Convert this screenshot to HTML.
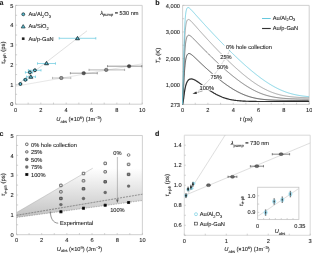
<!DOCTYPE html>
<html><head><meta charset="utf-8"><style>
html,body{margin:0;padding:0;background:#fff;width:312px;height:254px;overflow:hidden}
svg{display:block}
#w{width:312px;height:254px}
text{font-family:"Liberation Sans",sans-serif;text-rendering:geometricPrecision;stroke:#000;stroke-width:0.06px}
</style></head><body><div id="w">
<svg width="312" height="254" viewBox="0 0 312 254">
<defs><filter id="bl" x="0" y="0" width="312" height="254" filterUnits="userSpaceOnUse"><feConvolveMatrix order="3" kernelMatrix="0.00027 0.01580 0.00027 0.01580 0.93575 0.01580 0.00027 0.01580 0.00027" divisor="1" edgeMode="duplicate" preserveAlpha="false"/></filter></defs>
<g filter="url(#bl)">
<rect x="0" y="0" width="312" height="254" fill="#fff"/>
<text x="-0.50" y="5.00" font-size="7.2" text-anchor="start" fill="#000" font-weight="bold">a</text>
<text x="155.30" y="5.00" font-size="7.2" text-anchor="start" fill="#000" font-weight="bold">b</text>
<text x="-0.50" y="136.30" font-size="7.2" text-anchor="start" fill="#000" font-weight="bold">c</text>
<text x="155.00" y="136.20" font-size="7.2" text-anchor="start" fill="#000" font-weight="bold">d</text>
<path d="M15.50,104.20 L15.50,5.40 L142.20,5.40 L142.20,104.20 Z" fill="none" stroke="#c8c8c8" stroke-width="0.9" stroke-linejoin="miter"/>
<line x1="15.50" y1="104.20" x2="15.50" y2="102.60" stroke="#b0b0b0" stroke-width="0.6" />
<line x1="40.84" y1="104.20" x2="40.84" y2="102.60" stroke="#b0b0b0" stroke-width="0.6" />
<line x1="66.18" y1="104.20" x2="66.18" y2="102.60" stroke="#b0b0b0" stroke-width="0.6" />
<line x1="91.52" y1="104.20" x2="91.52" y2="102.60" stroke="#b0b0b0" stroke-width="0.6" />
<line x1="116.86" y1="104.20" x2="116.86" y2="102.60" stroke="#b0b0b0" stroke-width="0.6" />
<line x1="142.20" y1="104.20" x2="142.20" y2="102.60" stroke="#b0b0b0" stroke-width="0.6" />
<line x1="28.17" y1="104.20" x2="28.17" y2="102.60" stroke="#b0b0b0" stroke-width="0.6" />
<line x1="53.51" y1="104.20" x2="53.51" y2="102.60" stroke="#b0b0b0" stroke-width="0.6" />
<line x1="78.85" y1="104.20" x2="78.85" y2="102.60" stroke="#b0b0b0" stroke-width="0.6" />
<line x1="104.19" y1="104.20" x2="104.19" y2="102.60" stroke="#b0b0b0" stroke-width="0.6" />
<line x1="129.53" y1="104.20" x2="129.53" y2="102.60" stroke="#b0b0b0" stroke-width="0.6" />
<text x="15.50" y="112.00" font-size="5.7" text-anchor="middle" fill="#000" >0</text>
<text x="40.84" y="112.00" font-size="5.7" text-anchor="middle" fill="#000" >2</text>
<text x="66.18" y="112.00" font-size="5.7" text-anchor="middle" fill="#000" >4</text>
<text x="91.52" y="112.00" font-size="5.7" text-anchor="middle" fill="#000" >6</text>
<text x="116.86" y="112.00" font-size="5.7" text-anchor="middle" fill="#000" >8</text>
<text x="142.20" y="112.00" font-size="5.7" text-anchor="middle" fill="#000" >10</text>
<line x1="15.50" y1="104.20" x2="17.10" y2="104.20" stroke="#b0b0b0" stroke-width="0.6" />
<line x1="15.50" y1="84.44" x2="17.10" y2="84.44" stroke="#b0b0b0" stroke-width="0.6" />
<line x1="15.50" y1="64.68" x2="17.10" y2="64.68" stroke="#b0b0b0" stroke-width="0.6" />
<line x1="15.50" y1="44.92" x2="17.10" y2="44.92" stroke="#b0b0b0" stroke-width="0.6" />
<line x1="15.50" y1="25.16" x2="17.10" y2="25.16" stroke="#b0b0b0" stroke-width="0.6" />
<line x1="15.50" y1="5.40" x2="17.10" y2="5.40" stroke="#b0b0b0" stroke-width="0.6" />
<line x1="15.50" y1="94.32" x2="17.10" y2="94.32" stroke="#b0b0b0" stroke-width="0.6" />
<line x1="15.50" y1="74.56" x2="17.10" y2="74.56" stroke="#b0b0b0" stroke-width="0.6" />
<line x1="15.50" y1="54.80" x2="17.10" y2="54.80" stroke="#b0b0b0" stroke-width="0.6" />
<line x1="15.50" y1="35.04" x2="17.10" y2="35.04" stroke="#b0b0b0" stroke-width="0.6" />
<line x1="15.50" y1="15.28" x2="17.10" y2="15.28" stroke="#b0b0b0" stroke-width="0.6" />
<text x="13.30" y="106.40" font-size="5.7" text-anchor="end" fill="#000" >0</text>
<text x="13.30" y="86.64" font-size="5.7" text-anchor="end" fill="#000" >1</text>
<text x="13.30" y="66.88" font-size="5.7" text-anchor="end" fill="#000" >2</text>
<text x="13.30" y="47.12" font-size="5.7" text-anchor="end" fill="#000" >3</text>
<text x="13.30" y="27.36" font-size="5.7" text-anchor="end" fill="#000" >4</text>
<text x="13.30" y="7.60" font-size="5.7" text-anchor="end" fill="#000" >5</text>
<text transform="translate(5.0,52.8) rotate(-90)" font-size="6.0" text-anchor="middle" fill="#000"><tspan font-style="italic">τ</tspan><tspan font-size="4.2" dy="1.4">e-ph</tspan><tspan dy="-1.4"> (ps)</tspan></text>
<text x="79" y="121.1" font-size="5.7" text-anchor="middle" fill="#000"><tspan font-style="italic">U</tspan><tspan font-size="4.0" dy="1.5">abs</tspan><tspan dy="-1.5"> (×10</tspan><tspan font-size="4.0" dy="-2">6</tspan><tspan dy="2">) (Jm</tspan><tspan font-size="4.0" dy="-2">−3</tspan><tspan dy="2">)</tspan></text>
<text x="100.3" y="14.8" font-size="5.7" fill="#000"><tspan font-style="italic">λ</tspan><tspan font-size="4.0" dy="1.5">pump</tspan><tspan dy="-1.5"> = 530 nm</tspan></text>
<line x1="16.00" y1="85.60" x2="87.00" y2="30.80" stroke="#bdbdbd" stroke-width="0.5" />
<line x1="16.00" y1="86.20" x2="142.20" y2="63.80" stroke="#cfcfcf" stroke-width="0.5" />
<line x1="52.50" y1="78.00" x2="70.80" y2="78.00" stroke="#888" stroke-width="0.55" />
<line x1="52.50" y1="76.90" x2="52.50" y2="79.10" stroke="#888" stroke-width="0.55" />
<line x1="70.80" y1="76.90" x2="70.80" y2="79.10" stroke="#888" stroke-width="0.55" />
<line x1="70.40" y1="73.20" x2="97.30" y2="73.20" stroke="#555" stroke-width="0.55" />
<line x1="70.40" y1="72.10" x2="70.40" y2="74.30" stroke="#555" stroke-width="0.55" />
<line x1="97.30" y1="72.10" x2="97.30" y2="74.30" stroke="#555" stroke-width="0.55" />
<line x1="89.00" y1="69.90" x2="124.60" y2="69.90" stroke="#777" stroke-width="0.55" />
<line x1="89.00" y1="68.80" x2="89.00" y2="71.00" stroke="#777" stroke-width="0.55" />
<line x1="124.60" y1="68.80" x2="124.60" y2="71.00" stroke="#777" stroke-width="0.55" />
<line x1="107.50" y1="66.20" x2="141.80" y2="66.20" stroke="#444" stroke-width="0.55" />
<line x1="107.50" y1="65.10" x2="107.50" y2="67.30" stroke="#444" stroke-width="0.55" />
<line x1="141.80" y1="65.10" x2="141.80" y2="67.30" stroke="#444" stroke-width="0.55" />
<rect x="59.70" y="76.50" width="3.2" height="3.0" rx="1.1" fill="#999" stroke="#2a2a2a" stroke-width="0.55"/>
<rect x="82.10" y="71.70" width="3.2" height="3.0" rx="1.1" fill="#555" stroke="#2a2a2a" stroke-width="0.55"/>
<rect x="104.60" y="68.40" width="3.2" height="3.0" rx="1.1" fill="#888" stroke="#2a2a2a" stroke-width="0.55"/>
<rect x="127.50" y="64.70" width="3.2" height="3.0" rx="1.1" fill="#444" stroke="#2a2a2a" stroke-width="0.55"/>
<line x1="23.70" y1="79.80" x2="27.20" y2="79.80" stroke="#5cc6dc" stroke-width="0.7" />
<line x1="23.70" y1="78.60" x2="23.70" y2="81.00" stroke="#5cc6dc" stroke-width="0.7" />
<line x1="27.20" y1="78.60" x2="27.20" y2="81.00" stroke="#5cc6dc" stroke-width="0.7" />
<line x1="25.40" y1="72.40" x2="32.50" y2="72.40" stroke="#5cc6dc" stroke-width="0.7" />
<line x1="25.40" y1="71.20" x2="25.40" y2="73.60" stroke="#5cc6dc" stroke-width="0.7" />
<line x1="32.50" y1="71.20" x2="32.50" y2="73.60" stroke="#5cc6dc" stroke-width="0.7" />
<line x1="28.40" y1="70.30" x2="41.00" y2="70.30" stroke="#5cc6dc" stroke-width="0.7" />
<line x1="28.40" y1="69.10" x2="28.40" y2="71.50" stroke="#5cc6dc" stroke-width="0.7" />
<line x1="41.00" y1="69.10" x2="41.00" y2="71.50" stroke="#5cc6dc" stroke-width="0.7" />
<line x1="26.60" y1="76.80" x2="35.50" y2="76.80" stroke="#5cc6dc" stroke-width="0.7" />
<line x1="26.60" y1="75.60" x2="26.60" y2="78.00" stroke="#5cc6dc" stroke-width="0.7" />
<line x1="35.50" y1="75.60" x2="35.50" y2="78.00" stroke="#5cc6dc" stroke-width="0.7" />
<line x1="37.50" y1="63.50" x2="55.50" y2="63.50" stroke="#5cc6dc" stroke-width="0.7" />
<line x1="37.50" y1="62.30" x2="37.50" y2="64.70" stroke="#5cc6dc" stroke-width="0.7" />
<line x1="55.50" y1="62.30" x2="55.50" y2="64.70" stroke="#5cc6dc" stroke-width="0.7" />
<line x1="59.20" y1="38.30" x2="95.80" y2="38.30" stroke="#5cc6dc" stroke-width="0.7" />
<line x1="59.20" y1="37.10" x2="59.20" y2="39.50" stroke="#5cc6dc" stroke-width="0.7" />
<line x1="95.80" y1="37.10" x2="95.80" y2="39.50" stroke="#5cc6dc" stroke-width="0.7" />
<circle cx="20.4" cy="84" r="1.45" fill="#5cc6dc" stroke="#10242a" stroke-width="1.0"/>
<circle cx="25.4" cy="79.8" r="1.45" fill="#5cc6dc" stroke="#10242a" stroke-width="1.0"/>
<circle cx="29.9" cy="72.4" r="1.45" fill="#5cc6dc" stroke="#10242a" stroke-width="1.0"/>
<circle cx="34.9" cy="70.3" r="1.45" fill="#5cc6dc" stroke="#10242a" stroke-width="1.0"/>
<path d="M30.80,74.90 L32.80,78.22 L28.80,78.22 Z" fill="#5cc6dc" stroke="#10242a" stroke-width="0.9" stroke-linejoin="round"/>
<path d="M46.50,61.40 L48.49,64.72 L44.51,64.72 Z" fill="#5cc6dc" stroke="#10242a" stroke-width="0.9" stroke-linejoin="round"/>
<path d="M77.50,36.40 L79.50,39.72 L75.50,39.72 Z" fill="#5cc6dc" stroke="#10242a" stroke-width="0.9" stroke-linejoin="round"/>
<circle cx="23.3" cy="14.3" r="1.45" fill="#5cc6dc" stroke="#10242a" stroke-width="0.8"/>
<path d="M23.20,24.60 L25.20,27.93 L21.20,27.93 Z" fill="#5cc6dc" stroke="#10242a" stroke-width="0.7" stroke-linejoin="round"/>
<rect x="21.9" y="37.4" width="2.6" height="2.6" fill="#111"/>
<text x="28.4" y="16.2" font-size="5.7" fill="#000">Au/Al<tspan font-size="4.0" dy="1.5">2</tspan><tspan dy="-1.5">O</tspan><tspan font-size="4.0" dy="1.5">3</tspan></text>
<text x="28.4" y="28.4" font-size="5.7" fill="#000">Au/SiO<tspan font-size="4.0" dy="1.5">2</tspan></text>
<text x="28.4" y="40.5" font-size="5.7" fill="#000">Au/p-GaN</text>
<path d="M182.60,104.40 L182.60,5.40 L309.20,5.40 L309.20,104.40 Z" fill="none" stroke="#c8c8c8" stroke-width="0.9" stroke-linejoin="miter"/>
<line x1="182.60" y1="104.40" x2="182.60" y2="102.80" stroke="#b0b0b0" stroke-width="0.6" />
<line x1="207.92" y1="104.40" x2="207.92" y2="102.80" stroke="#b0b0b0" stroke-width="0.6" />
<line x1="233.24" y1="104.40" x2="233.24" y2="102.80" stroke="#b0b0b0" stroke-width="0.6" />
<line x1="258.56" y1="104.40" x2="258.56" y2="102.80" stroke="#b0b0b0" stroke-width="0.6" />
<line x1="283.88" y1="104.40" x2="283.88" y2="102.80" stroke="#b0b0b0" stroke-width="0.6" />
<line x1="309.20" y1="104.40" x2="309.20" y2="102.80" stroke="#b0b0b0" stroke-width="0.6" />
<line x1="195.26" y1="104.40" x2="195.26" y2="102.80" stroke="#b0b0b0" stroke-width="0.6" />
<line x1="220.58" y1="104.40" x2="220.58" y2="102.80" stroke="#b0b0b0" stroke-width="0.6" />
<line x1="245.90" y1="104.40" x2="245.90" y2="102.80" stroke="#b0b0b0" stroke-width="0.6" />
<line x1="271.22" y1="104.40" x2="271.22" y2="102.80" stroke="#b0b0b0" stroke-width="0.6" />
<line x1="296.54" y1="104.40" x2="296.54" y2="102.80" stroke="#b0b0b0" stroke-width="0.6" />
<text x="182.60" y="112.00" font-size="5.7" text-anchor="middle" fill="#000" >0</text>
<text x="207.92" y="112.00" font-size="5.7" text-anchor="middle" fill="#000" >2</text>
<text x="233.24" y="112.00" font-size="5.7" text-anchor="middle" fill="#000" >4</text>
<text x="258.56" y="112.00" font-size="5.7" text-anchor="middle" fill="#000" >6</text>
<text x="283.88" y="112.00" font-size="5.7" text-anchor="middle" fill="#000" >8</text>
<text x="309.20" y="112.00" font-size="5.7" text-anchor="middle" fill="#000" >10</text>
<line x1="182.60" y1="104.40" x2="184.20" y2="104.40" stroke="#b0b0b0" stroke-width="0.6" />
<line x1="182.60" y1="85.09" x2="184.20" y2="85.09" stroke="#b0b0b0" stroke-width="0.6" />
<line x1="182.60" y1="58.53" x2="184.20" y2="58.53" stroke="#b0b0b0" stroke-width="0.6" />
<line x1="182.60" y1="31.96" x2="184.20" y2="31.96" stroke="#b0b0b0" stroke-width="0.6" />
<line x1="182.60" y1="5.40" x2="184.20" y2="5.40" stroke="#b0b0b0" stroke-width="0.6" />
<line x1="182.60" y1="98.37" x2="184.20" y2="98.37" stroke="#b0b0b0" stroke-width="0.6" />
<line x1="182.60" y1="71.81" x2="184.20" y2="71.81" stroke="#b0b0b0" stroke-width="0.6" />
<line x1="182.60" y1="45.24" x2="184.20" y2="45.24" stroke="#b0b0b0" stroke-width="0.6" />
<line x1="182.60" y1="18.68" x2="184.20" y2="18.68" stroke="#b0b0b0" stroke-width="0.6" />
<text x="180.00" y="106.60" font-size="5.7" text-anchor="end" fill="#000" >273</text>
<text x="180.00" y="87.29" font-size="5.7" text-anchor="end" fill="#000" >1,000</text>
<text x="180.00" y="60.73" font-size="5.7" text-anchor="end" fill="#000" >2,000</text>
<text x="180.00" y="34.16" font-size="5.7" text-anchor="end" fill="#000" >3,000</text>
<text x="180.00" y="7.60" font-size="5.7" text-anchor="end" fill="#000" >4,000</text>
<text transform="translate(159.6,55.7) rotate(-90)" font-size="6.0" text-anchor="middle" fill="#000"><tspan font-style="italic">T</tspan><tspan font-size="4.2" dy="1.4">e</tspan><tspan dy="-1.4"> (K)</tspan></text>
<text x="246.2" y="121.2" font-size="5.7" text-anchor="middle" fill="#000"><tspan font-style="italic">t</tspan> (ps)</text>
<g fill="none" stroke-linejoin="round">
<path d="M182.60,104.40 L182.60,103.83 L182.83,103.25 L183.01,102.57 L183.13,101.95 L183.26,101.23 L183.36,100.58 L183.46,99.88 L183.56,99.14 L183.66,98.37 L183.76,97.57 L183.84,96.97 L183.92,96.36 L183.99,95.76 L184.07,95.16 L184.17,94.37 L184.27,93.60 L184.37,92.85 L184.47,92.13 L184.57,91.44 L184.68,90.79 L184.78,90.16 L184.88,89.56 L185.01,88.86 L185.13,88.20 L185.26,87.59 L185.41,86.90 L185.56,86.27 L185.71,85.68 L185.89,85.05 L186.07,84.47 L186.27,83.87 L186.50,83.25 L186.75,82.65 L187.03,82.06 L187.33,81.50 L187.66,80.98 L188.04,80.47 L188.47,80.01 L188.96,79.61 L189.49,79.29 L190.07,79.07 L190.68,78.95 L191.28,78.92 L191.89,78.98 L192.50,79.11 L193.08,79.28 L193.66,79.51 L194.22,79.75 L194.78,80.03 L195.31,80.32 L195.84,80.62 L196.37,80.95 L196.88,81.27 L197.39,81.60 L197.89,81.94 L198.40,82.29 L198.91,82.65 L199.41,83.01 L199.92,83.38 L200.43,83.75 L200.93,84.12 L201.44,84.49 L201.94,84.87 L202.45,85.25 L202.96,85.62 L203.46,86.00 L203.97,86.37 L204.48,86.74 L204.98,87.11 L205.49,87.48 L206.00,87.85 L206.50,88.21 L207.01,88.57 L207.51,88.93 L208.02,89.28 L208.53,89.63 L209.03,89.97 L209.54,90.31 L210.05,90.65 L210.55,90.98 L211.06,91.31 L211.57,91.63 L212.10,91.96 L212.63,92.29 L213.16,92.61 L213.69,92.93 L214.22,93.24 L214.76,93.54 L215.29,93.84 L215.82,94.13 L216.35,94.42 L216.88,94.69 L217.44,94.98 L218.00,95.26 L218.55,95.53 L219.11,95.79 L219.67,96.04 L220.23,96.29 L220.78,96.53 L221.34,96.76 L221.90,96.99 L222.48,97.21 L223.06,97.43 L223.64,97.64 L224.23,97.85 L224.81,98.04 L225.39,98.23 L225.97,98.41 L226.56,98.58 L227.14,98.75 L227.72,98.90 L228.30,99.05 L228.91,99.20 L229.52,99.35 L230.13,99.48 L230.73,99.61 L231.34,99.73 L231.95,99.84 L232.56,99.95 L233.16,100.05 L233.77,100.15 L234.38,100.24 L234.99,100.33 L235.59,100.41 L236.20,100.48 L236.81,100.55 L237.42,100.62 L238.03,100.68 L238.63,100.74 L239.24,100.80 L239.85,100.85 L240.46,100.89 L241.06,100.94 L241.67,100.98 L242.28,101.02 L242.89,101.06 L243.49,101.09 L244.10,101.12 L244.71,101.15 L245.32,101.18 L245.93,101.20 L246.53,101.23 L247.14,101.25 L247.75,101.27 L248.36,101.29 L248.96,101.31 L249.57,101.32 L250.18,101.34 L250.79,101.35 L251.39,101.37 L252.00,101.38 L252.61,101.39 L253.22,101.40 L253.83,101.41 L254.43,101.42 L255.04,101.43 L255.65,101.44 L256.26,101.44 L256.86,101.45 L257.47,101.46 L258.08,101.46 L258.69,101.47 L259.29,101.47 L259.90,101.48 L260.51,101.48 L261.12,101.49 L261.73,101.49 L262.33,101.49 L262.94,101.50 L263.55,101.50 L264.16,101.50 L264.76,101.51 L265.37,101.51 L265.98,101.51 L266.59,101.51 L267.19,101.51 L267.80,101.52 L268.41,101.52 L269.02,101.52 L269.62,101.52 L270.23,101.52 L270.84,101.52 L271.45,101.52 L272.06,101.52 L272.66,101.53 L273.27,101.53 L273.88,101.53 L274.49,101.53 L275.09,101.53 L275.70,101.53 L276.31,101.53 L276.92,101.53 L277.52,101.53 L278.13,101.53 L278.74,101.53 L279.35,101.53 L279.96,101.53 L280.56,101.53 L281.17,101.53 L281.78,101.53 L282.39,101.53 L282.99,101.53 L283.60,101.53 L284.21,101.53 L284.82,101.53 L285.42,101.54 L286.03,101.54 L286.64,101.54 L287.25,101.54 L287.86,101.54 L288.46,101.54 L289.07,101.54 L289.68,101.54 L290.29,101.54 L290.89,101.54 L291.50,101.54 L292.11,101.54 L292.72,101.54 L293.32,101.54 L293.93,101.54 L294.54,101.54 L295.15,101.54 L295.76,101.54 L296.36,101.54 L296.97,101.54 L297.58,101.54 L298.19,101.54 L298.79,101.54 L299.40,101.54 L300.01,101.54 L300.62,101.54 L301.22,101.54 L301.83,101.54 L302.44,101.54 L303.05,101.54 L303.65,101.54 L304.26,101.54 L304.87,101.54 L305.48,101.54 L306.09,101.54 L306.69,101.54 L307.30,101.54 L307.91,101.54 L308.52,101.54 L309.12,101.54" stroke="#111" stroke-width="1.15" fill="none"/>
<path d="M182.60,104.40 L182.60,101.82 L182.68,101.19 L182.75,100.47 L182.83,99.65 L182.90,98.74 L182.95,98.08 L183.01,97.38 L183.06,96.65 L183.11,95.88 L183.16,95.09 L183.21,94.26 L183.26,93.40 L183.31,92.52 L183.36,91.62 L183.41,90.70 L183.46,89.76 L183.51,88.82 L183.56,87.86 L183.61,86.89 L183.66,85.93 L183.71,84.96 L183.76,83.99 L183.82,83.03 L183.87,82.07 L183.92,81.12 L183.97,80.19 L184.02,79.26 L184.07,78.36 L184.12,77.47 L184.17,76.59 L184.22,75.74 L184.27,74.91 L184.32,74.09 L184.37,73.30 L184.42,72.54 L184.47,71.79 L184.52,71.07 L184.57,70.37 L184.63,69.69 L184.68,69.04 L184.73,68.41 L184.78,67.80 L184.85,66.93 L184.93,66.10 L185.01,65.32 L185.08,64.59 L185.16,63.89 L185.23,63.24 L185.31,62.62 L185.41,61.85 L185.51,61.14 L185.61,60.48 L185.71,59.87 L185.84,59.17 L185.97,58.54 L186.12,57.86 L186.27,57.25 L186.45,56.63 L186.65,56.02 L186.88,55.44 L187.16,54.87 L187.49,54.36 L187.92,53.91 L188.45,53.60 L189.06,53.51 L189.66,53.62 L190.25,53.86 L190.78,54.15 L191.28,54.49 L191.79,54.86 L192.27,55.25 L192.75,55.65 L193.21,56.05 L193.66,56.46 L194.12,56.88 L194.58,57.30 L195.03,57.72 L195.49,58.16 L195.94,58.59 L196.40,59.02 L196.86,59.46 L197.31,59.89 L197.77,60.33 L198.22,60.77 L198.68,61.20 L199.13,61.64 L199.59,62.07 L200.05,62.50 L200.50,62.94 L200.96,63.37 L201.41,63.80 L201.87,64.23 L202.32,64.65 L202.78,65.08 L203.24,65.50 L203.69,65.93 L204.15,66.35 L204.60,66.77 L205.06,67.19 L205.51,67.61 L205.97,68.03 L206.43,68.44 L206.88,68.85 L207.34,69.27 L207.79,69.68 L208.25,70.08 L208.70,70.49 L209.16,70.90 L209.62,71.30 L210.07,71.70 L210.53,72.10 L210.98,72.50 L211.44,72.90 L211.90,73.29 L212.35,73.69 L212.81,74.08 L213.29,74.49 L213.77,74.90 L214.25,75.31 L214.73,75.71 L215.21,76.12 L215.69,76.52 L216.17,76.91 L216.66,77.31 L217.14,77.70 L217.62,78.10 L218.10,78.48 L218.58,78.87 L219.06,79.26 L219.54,79.64 L220.02,80.02 L220.50,80.39 L220.99,80.77 L221.47,81.14 L221.95,81.51 L222.43,81.87 L222.91,82.23 L223.39,82.59 L223.90,82.97 L224.40,83.34 L224.91,83.71 L225.42,84.08 L225.92,84.44 L226.43,84.80 L226.94,85.16 L227.44,85.51 L227.95,85.86 L228.45,86.20 L228.96,86.54 L229.47,86.88 L229.97,87.21 L230.48,87.54 L230.99,87.87 L231.49,88.19 L232.02,88.53 L232.56,88.86 L233.09,89.18 L233.62,89.50 L234.15,89.82 L234.68,90.13 L235.21,90.43 L235.75,90.73 L236.28,91.03 L236.81,91.32 L237.34,91.61 L237.87,91.89 L238.43,92.17 L238.99,92.46 L239.54,92.73 L240.10,93.01 L240.66,93.27 L241.22,93.53 L241.77,93.79 L242.33,94.03 L242.89,94.28 L243.44,94.51 L244.00,94.74 L244.56,94.97 L245.14,95.20 L245.72,95.42 L246.31,95.63 L246.89,95.84 L247.47,96.04 L248.05,96.24 L248.63,96.43 L249.22,96.61 L249.80,96.79 L250.38,96.96 L250.96,97.13 L251.55,97.29 L252.13,97.44 L252.71,97.59 L253.32,97.73 L253.93,97.88 L254.53,98.01 L255.14,98.14 L255.75,98.27 L256.36,98.39 L256.96,98.50 L257.57,98.61 L258.18,98.71 L258.79,98.81 L259.40,98.90 L260.00,98.99 L260.61,99.08 L261.22,99.16 L261.83,99.23 L262.43,99.31 L263.04,99.38 L263.65,99.44 L264.26,99.50 L264.86,99.56 L265.47,99.62 L266.08,99.67 L266.69,99.72 L267.30,99.77 L267.90,99.81 L268.51,99.85 L269.12,99.89 L269.73,99.93 L270.33,99.96 L270.94,100.00 L271.55,100.03 L272.16,100.06 L272.76,100.09 L273.37,100.11 L273.98,100.14 L274.59,100.16 L275.20,100.18 L275.80,100.20 L276.41,100.22 L277.02,100.24 L277.63,100.26 L278.23,100.27 L278.84,100.29 L279.45,100.30 L280.06,100.31 L280.66,100.33 L281.27,100.34 L281.88,100.35 L282.49,100.36 L283.10,100.37 L283.70,100.38 L284.31,100.39 L284.92,100.39 L285.53,100.40 L286.13,100.41 L286.74,100.42 L287.35,100.42 L287.96,100.43 L288.56,100.43 L289.17,100.44 L289.78,100.44 L290.39,100.45 L290.99,100.45 L291.60,100.46 L292.21,100.46 L292.82,100.46 L293.43,100.47 L294.03,100.47 L294.64,100.47 L295.25,100.47 L295.86,100.48 L296.46,100.48 L297.07,100.48 L297.68,100.48 L298.29,100.49 L298.89,100.49 L299.50,100.49 L300.11,100.49 L300.72,100.49 L301.33,100.49 L301.93,100.49 L302.54,100.50 L303.15,100.50 L303.76,100.50 L304.36,100.50 L304.97,100.50 L305.58,100.50 L306.19,100.50 L306.79,100.50 L307.40,100.50 L308.01,100.50 L308.62,100.50" stroke="#3a3a3a" stroke-width="0.95" fill="none"/>
<path d="M182.60,104.40 L182.60,99.96 L182.65,99.31 L182.70,98.60 L182.75,97.84 L182.80,97.02 L182.85,96.14 L182.90,95.21 L182.95,94.23 L183.01,93.21 L183.06,92.14 L183.11,91.02 L183.16,89.87 L183.21,88.68 L183.23,88.07 L183.26,87.46 L183.28,86.83 L183.31,86.20 L183.33,85.57 L183.36,84.93 L183.38,84.28 L183.41,83.63 L183.44,82.97 L183.46,82.31 L183.49,81.65 L183.51,80.99 L183.54,80.32 L183.56,79.65 L183.59,78.98 L183.61,78.30 L183.64,77.63 L183.66,76.96 L183.69,76.29 L183.71,75.62 L183.74,74.95 L183.76,74.28 L183.79,73.62 L183.82,72.95 L183.84,72.29 L183.87,71.64 L183.89,70.99 L183.92,70.34 L183.94,69.69 L183.97,69.06 L183.99,68.42 L184.02,67.80 L184.04,67.17 L184.07,66.56 L184.09,65.95 L184.12,65.35 L184.17,64.16 L184.22,63.01 L184.27,61.88 L184.32,60.79 L184.37,59.73 L184.42,58.70 L184.47,57.70 L184.52,56.74 L184.57,55.81 L184.63,54.91 L184.68,54.05 L184.73,53.21 L184.78,52.41 L184.83,51.65 L184.88,50.91 L184.93,50.20 L184.98,49.52 L185.03,48.86 L185.08,48.24 L185.13,47.64 L185.21,46.78 L185.28,45.98 L185.36,45.23 L185.44,44.53 L185.51,43.87 L185.59,43.25 L185.69,42.48 L185.79,41.78 L185.89,41.13 L185.99,40.54 L186.12,39.87 L186.25,39.27 L186.40,38.63 L186.58,37.98 L186.78,37.36 L187.01,36.79 L187.28,36.25 L187.64,35.76 L188.12,35.38 L188.70,35.23 L189.31,35.33 L189.87,35.58 L190.40,35.91 L190.90,36.29 L191.39,36.68 L191.84,37.09 L192.30,37.51 L192.75,37.95 L193.18,38.38 L193.61,38.81 L194.04,39.24 L194.48,39.68 L194.91,40.12 L195.34,40.57 L195.77,41.01 L196.20,41.46 L196.63,41.90 L197.06,42.35 L197.49,42.80 L197.92,43.24 L198.35,43.69 L198.78,44.13 L199.21,44.58 L199.64,45.02 L200.07,45.47 L200.50,45.91 L200.93,46.35 L201.36,46.79 L201.79,47.23 L202.22,47.67 L202.65,48.11 L203.08,48.55 L203.51,48.98 L203.94,49.42 L204.38,49.85 L204.81,50.29 L205.24,50.72 L205.67,51.15 L206.10,51.59 L206.53,52.02 L206.96,52.45 L207.39,52.87 L207.82,53.30 L208.25,53.73 L208.68,54.15 L209.11,54.58 L209.54,55.00 L209.97,55.42 L210.40,55.85 L210.83,56.27 L211.26,56.69 L211.69,57.10 L212.15,57.55 L212.60,57.99 L213.06,58.43 L213.52,58.86 L213.97,59.30 L214.43,59.74 L214.88,60.17 L215.34,60.60 L215.79,61.04 L216.25,61.47 L216.71,61.90 L217.16,62.32 L217.62,62.75 L218.07,63.17 L218.53,63.60 L218.98,64.02 L219.44,64.44 L219.90,64.86 L220.35,65.28 L220.81,65.69 L221.26,66.11 L221.72,66.52 L222.18,66.93 L222.63,67.34 L223.09,67.75 L223.54,68.16 L224.00,68.57 L224.45,68.97 L224.91,69.37 L225.37,69.77 L225.82,70.17 L226.28,70.57 L226.73,70.96 L227.19,71.35 L227.64,71.75 L228.13,72.16 L228.61,72.57 L229.09,72.97 L229.57,73.38 L230.05,73.78 L230.53,74.18 L231.01,74.58 L231.49,74.98 L231.97,75.37 L232.46,75.76 L232.94,76.15 L233.42,76.54 L233.90,76.92 L234.38,77.30 L234.86,77.68 L235.34,78.06 L235.82,78.43 L236.30,78.81 L236.78,79.18 L237.27,79.54 L237.75,79.91 L238.23,80.27 L238.73,80.64 L239.24,81.02 L239.75,81.39 L240.25,81.75 L240.76,82.12 L241.27,82.48 L241.77,82.84 L242.28,83.19 L242.79,83.54 L243.29,83.89 L243.80,84.23 L244.30,84.57 L244.81,84.91 L245.32,85.24 L245.82,85.57 L246.33,85.90 L246.86,86.23 L247.39,86.57 L247.93,86.89 L248.46,87.22 L248.99,87.54 L249.52,87.85 L250.05,88.16 L250.58,88.47 L251.12,88.77 L251.65,89.07 L252.18,89.36 L252.71,89.65 L253.24,89.93 L253.80,90.22 L254.36,90.51 L254.91,90.79 L255.47,91.06 L256.03,91.33 L256.59,91.59 L257.14,91.85 L257.70,92.10 L258.26,92.35 L258.81,92.59 L259.37,92.83 L259.93,93.06 L260.48,93.28 L261.07,93.51 L261.65,93.73 L262.23,93.95 L262.81,94.16 L263.40,94.37 L263.98,94.56 L264.56,94.76 L265.14,94.94 L265.73,95.12 L266.31,95.30 L266.89,95.47 L267.47,95.63 L268.06,95.79 L268.64,95.94 L269.22,96.09 L269.83,96.24 L270.44,96.38 L271.04,96.52 L271.65,96.65 L272.26,96.78 L272.87,96.90 L273.47,97.01 L274.08,97.13 L274.69,97.23 L275.30,97.33 L275.90,97.43 L276.51,97.52 L277.12,97.61 L277.73,97.70 L278.33,97.78 L278.94,97.86 L279.55,97.93 L280.16,98.00 L280.77,98.07 L281.37,98.13 L281.98,98.19 L282.59,98.25 L283.20,98.30 L283.80,98.35 L284.41,98.40 L285.02,98.45 L285.63,98.49 L286.23,98.54 L286.84,98.58 L287.45,98.61 L288.06,98.65 L288.67,98.68 L289.27,98.71 L289.88,98.74 L290.49,98.77 L291.10,98.80 L291.70,98.83 L292.31,98.85 L292.92,98.87 L293.53,98.89 L294.13,98.92 L294.74,98.93 L295.35,98.95 L295.96,98.97 L296.57,98.99 L297.17,99.00 L297.78,99.02 L298.39,99.03 L299.00,99.04 L299.60,99.06 L300.21,99.07 L300.82,99.08 L301.43,99.09 L302.03,99.10 L302.64,99.11 L303.25,99.12 L303.86,99.12 L304.47,99.13 L305.07,99.14 L305.68,99.15 L306.29,99.15 L306.90,99.16 L307.50,99.16 L308.11,99.17 L308.72,99.17" stroke="#5e5e5e" stroke-width="0.85" fill="none"/>
<path d="M182.60,104.40 L182.60,97.93 L182.65,97.04 L182.70,96.08 L182.75,95.05 L182.80,93.96 L182.85,92.80 L182.88,92.20 L182.90,91.58 L182.93,90.95 L182.95,90.30 L182.98,89.63 L183.01,88.96 L183.03,88.27 L183.06,87.57 L183.08,86.85 L183.11,86.13 L183.13,85.39 L183.16,84.64 L183.18,83.88 L183.21,83.11 L183.23,82.33 L183.26,81.54 L183.28,80.74 L183.31,79.94 L183.33,79.13 L183.36,78.31 L183.38,77.49 L183.41,76.66 L183.44,75.83 L183.46,74.99 L183.49,74.15 L183.51,73.31 L183.54,72.46 L183.56,71.62 L183.59,70.77 L183.61,69.92 L183.64,69.07 L183.66,68.23 L183.69,67.38 L183.71,66.54 L183.74,65.70 L183.76,64.86 L183.79,64.03 L183.82,63.20 L183.84,62.37 L183.87,61.55 L183.89,60.74 L183.92,59.93 L183.94,59.13 L183.97,58.33 L183.99,57.55 L184.02,56.77 L184.04,55.99 L184.07,55.23 L184.09,54.48 L184.12,53.73 L184.14,53.00 L184.17,52.27 L184.20,51.55 L184.22,50.84 L184.25,50.15 L184.27,49.46 L184.30,48.79 L184.32,48.12 L184.35,47.46 L184.37,46.82 L184.40,46.19 L184.42,45.56 L184.45,44.95 L184.47,44.35 L184.52,43.18 L184.57,42.06 L184.63,40.98 L184.68,39.94 L184.73,38.94 L184.78,37.99 L184.83,37.07 L184.88,36.20 L184.93,35.36 L184.98,34.56 L185.03,33.79 L185.08,33.06 L185.13,32.37 L185.18,31.70 L185.23,31.06 L185.28,30.46 L185.36,29.60 L185.44,28.80 L185.51,28.06 L185.59,27.37 L185.66,26.72 L185.74,26.12 L185.84,25.39 L185.94,24.72 L186.04,24.12 L186.17,23.44 L186.30,22.84 L186.45,22.22 L186.63,21.60 L186.83,21.03 L187.08,20.47 L187.41,19.96 L187.89,19.56 L188.50,19.46 L189.08,19.63 L189.61,19.95 L190.09,20.31 L190.55,20.71 L191.01,21.15 L191.44,21.58 L191.87,22.03 L192.30,22.49 L192.73,22.96 L193.13,23.41 L193.54,23.86 L193.94,24.31 L194.35,24.76 L194.75,25.22 L195.16,25.68 L195.56,26.13 L195.97,26.59 L196.37,27.05 L196.78,27.51 L197.18,27.96 L197.59,28.42 L197.99,28.88 L198.40,29.33 L198.80,29.79 L199.21,30.24 L199.62,30.69 L200.02,31.15 L200.43,31.60 L200.83,32.05 L201.24,32.50 L201.64,32.95 L202.05,33.40 L202.45,33.85 L202.86,34.30 L203.26,34.75 L203.67,35.20 L204.07,35.64 L204.48,36.09 L204.88,36.53 L205.29,36.98 L205.69,37.42 L206.10,37.87 L206.53,38.34 L206.96,38.81 L207.39,39.27 L207.82,39.74 L208.25,40.21 L208.68,40.67 L209.11,41.14 L209.54,41.60 L209.97,42.07 L210.40,42.53 L210.83,42.99 L211.26,43.45 L211.69,43.91 L212.12,44.37 L212.55,44.83 L212.98,45.28 L213.41,45.74 L213.84,46.19 L214.28,46.65 L214.71,47.10 L215.14,47.55 L215.57,48.00 L216.00,48.45 L216.43,48.90 L216.86,49.35 L217.29,49.80 L217.72,50.24 L218.15,50.69 L218.58,51.13 L219.01,51.57 L219.44,52.02 L219.87,52.46 L220.30,52.90 L220.73,53.33 L221.16,53.77 L221.59,54.21 L222.02,54.64 L222.45,55.08 L222.88,55.51 L223.31,55.94 L223.75,56.37 L224.18,56.80 L224.61,57.23 L225.04,57.66 L225.47,58.08 L225.90,58.50 L226.33,58.93 L226.76,59.35 L227.19,59.77 L227.62,60.19 L228.07,60.63 L228.53,61.07 L228.99,61.51 L229.44,61.95 L229.90,62.38 L230.35,62.82 L230.81,63.25 L231.27,63.68 L231.72,64.11 L232.18,64.54 L232.63,64.97 L233.09,65.39 L233.54,65.81 L234.00,66.23 L234.46,66.65 L234.91,67.07 L235.37,67.49 L235.82,67.90 L236.28,68.31 L236.73,68.72 L237.19,69.13 L237.65,69.53 L238.10,69.94 L238.56,70.34 L239.01,70.74 L239.47,71.14 L239.92,71.53 L240.38,71.93 L240.84,72.32 L241.32,72.73 L241.80,73.14 L242.28,73.55 L242.76,73.95 L243.24,74.35 L243.72,74.75 L244.20,75.15 L244.68,75.54 L245.17,75.93 L245.65,76.32 L246.13,76.70 L246.61,77.09 L247.09,77.47 L247.57,77.84 L248.05,78.22 L248.53,78.59 L249.01,78.96 L249.50,79.32 L249.98,79.68 L250.46,80.04 L250.96,80.42 L251.47,80.79 L251.98,81.15 L252.48,81.52 L252.99,81.88 L253.50,82.23 L254.00,82.59 L254.51,82.94 L255.02,83.28 L255.52,83.62 L256.03,83.96 L256.53,84.29 L257.04,84.62 L257.55,84.94 L258.08,85.28 L258.61,85.61 L259.14,85.94 L259.67,86.26 L260.21,86.58 L260.74,86.89 L261.27,87.20 L261.80,87.51 L262.33,87.81 L262.86,88.10 L263.40,88.39 L263.93,88.67 L264.46,88.95 L265.02,89.24 L265.57,89.52 L266.13,89.79 L266.69,90.06 L267.24,90.33 L267.80,90.58 L268.36,90.84 L268.92,91.08 L269.47,91.32 L270.03,91.56 L270.59,91.79 L271.14,92.01 L271.73,92.24 L272.31,92.46 L272.89,92.68 L273.47,92.89 L274.06,93.09 L274.64,93.29 L275.22,93.48 L275.80,93.67 L276.39,93.85 L276.97,94.02 L277.55,94.19 L278.13,94.35 L278.71,94.51 L279.30,94.66 L279.88,94.81 L280.49,94.96 L281.09,95.10 L281.70,95.24 L282.31,95.37 L282.92,95.49 L283.53,95.62 L284.13,95.73 L284.74,95.84 L285.35,95.95 L285.96,96.05 L286.56,96.15 L287.17,96.24 L287.78,96.33 L288.39,96.42 L288.99,96.50 L289.60,96.58 L290.21,96.65 L290.82,96.72 L291.43,96.79 L292.03,96.85 L292.64,96.91 L293.25,96.97 L293.86,97.03 L294.46,97.08 L295.07,97.13 L295.68,97.18 L296.29,97.22 L296.89,97.27 L297.50,97.31 L298.11,97.35 L298.72,97.38 L299.33,97.42 L299.93,97.45 L300.54,97.48 L301.15,97.51 L301.76,97.54 L302.36,97.57 L302.97,97.59 L303.58,97.62 L304.19,97.64 L304.79,97.66 L305.40,97.68 L306.01,97.70 L306.62,97.72 L307.23,97.74 L307.83,97.75 L308.44,97.77 L309.05,97.78" stroke="#8a8a8a" stroke-width="0.8" fill="none"/>
<path d="M182.60,104.40 L182.60,96.04 L182.65,94.95 L182.70,93.77 L182.73,93.16 L182.75,92.52 L182.78,91.87 L182.80,91.19 L182.83,90.50 L182.85,89.79 L182.88,89.07 L182.90,88.32 L182.93,87.56 L182.95,86.78 L182.98,85.99 L183.01,85.18 L183.03,84.36 L183.06,83.52 L183.08,82.67 L183.11,81.80 L183.13,80.92 L183.16,80.03 L183.18,79.13 L183.21,78.22 L183.23,77.30 L183.26,76.36 L183.28,75.42 L183.31,74.47 L183.33,73.51 L183.36,72.55 L183.38,71.58 L183.41,70.60 L183.44,69.62 L183.46,68.64 L183.49,67.65 L183.51,66.66 L183.54,65.67 L183.56,64.68 L183.59,63.69 L183.61,62.69 L183.64,61.70 L183.66,60.71 L183.69,59.73 L183.71,58.74 L183.74,57.76 L183.76,56.79 L183.79,55.82 L183.82,54.85 L183.84,53.89 L183.87,52.94 L183.89,52.00 L183.92,51.06 L183.94,50.14 L183.97,49.22 L183.99,48.31 L184.02,47.41 L184.04,46.52 L184.07,45.64 L184.09,44.77 L184.12,43.92 L184.14,43.07 L184.17,42.24 L184.20,41.42 L184.22,40.61 L184.25,39.81 L184.27,39.03 L184.30,38.26 L184.32,37.50 L184.35,36.76 L184.37,36.03 L184.40,35.31 L184.42,34.60 L184.45,33.91 L184.47,33.24 L184.50,32.57 L184.52,31.92 L184.55,31.28 L184.57,30.66 L184.60,30.05 L184.65,28.86 L184.70,27.73 L184.75,26.65 L184.80,25.62 L184.85,24.63 L184.90,23.69 L184.95,22.80 L185.01,21.95 L185.06,21.14 L185.11,20.37 L185.16,19.64 L185.21,18.94 L185.26,18.28 L185.31,17.66 L185.39,16.78 L185.46,15.96 L185.54,15.21 L185.61,14.52 L185.69,13.88 L185.79,13.10 L185.89,12.40 L185.99,11.78 L186.12,11.08 L186.25,10.48 L186.40,9.87 L186.58,9.27 L186.80,8.68 L187.11,8.12 L187.54,7.67 L188.12,7.51 L188.70,7.68 L189.23,7.99 L189.71,8.37 L190.17,8.78 L190.63,9.23 L191.06,9.66 L191.49,10.12 L191.92,10.58 L192.35,11.05 L192.75,11.49 L193.16,11.94 L193.56,12.39 L193.97,12.84 L194.37,13.29 L194.78,13.75 L195.18,14.20 L195.59,14.65 L195.99,15.10 L196.40,15.55 L196.80,16.00 L197.21,16.45 L197.61,16.91 L198.02,17.35 L198.43,17.80 L198.83,18.25 L199.24,18.70 L199.64,19.15 L200.05,19.60 L200.45,20.04 L200.86,20.49 L201.26,20.94 L201.67,21.38 L202.07,21.83 L202.48,22.27 L202.88,22.72 L203.29,23.16 L203.69,23.60 L204.12,24.07 L204.55,24.54 L204.98,25.01 L205.41,25.48 L205.84,25.95 L206.27,26.41 L206.70,26.88 L207.14,27.34 L207.57,27.81 L208.00,28.27 L208.43,28.74 L208.86,29.20 L209.29,29.66 L209.72,30.13 L210.15,30.59 L210.58,31.05 L211.01,31.51 L211.44,31.97 L211.87,32.43 L212.30,32.88 L212.73,33.34 L213.16,33.80 L213.59,34.25 L214.02,34.71 L214.45,35.16 L214.88,35.62 L215.31,36.07 L215.74,36.52 L216.17,36.97 L216.60,37.42 L217.04,37.87 L217.47,38.32 L217.90,38.77 L218.33,39.22 L218.76,39.67 L219.19,40.11 L219.62,40.56 L220.05,41.00 L220.48,41.45 L220.91,41.89 L221.34,42.33 L221.77,42.77 L222.20,43.21 L222.63,43.65 L223.06,44.09 L223.49,44.53 L223.92,44.97 L224.35,45.40 L224.78,45.84 L225.21,46.27 L225.64,46.71 L226.07,47.14 L226.50,47.57 L226.94,48.00 L227.37,48.43 L227.80,48.86 L228.23,49.29 L228.66,49.72 L229.09,50.14 L229.52,50.57 L229.95,50.99 L230.38,51.42 L230.81,51.84 L231.24,52.26 L231.67,52.68 L232.10,53.10 L232.53,53.52 L232.99,53.96 L233.44,54.40 L233.90,54.84 L234.35,55.28 L234.81,55.71 L235.27,56.15 L235.72,56.58 L236.18,57.02 L236.63,57.45 L237.09,57.88 L237.54,58.31 L238.00,58.74 L238.46,59.16 L238.91,59.59 L239.37,60.01 L239.82,60.44 L240.28,60.86 L240.73,61.28 L241.19,61.69 L241.65,62.11 L242.10,62.53 L242.56,62.94 L243.01,63.35 L243.47,63.76 L243.93,64.17 L244.38,64.58 L244.84,64.99 L245.29,65.39 L245.75,65.79 L246.20,66.20 L246.66,66.60 L247.12,66.99 L247.57,67.39 L248.03,67.78 L248.48,68.18 L248.94,68.57 L249.42,68.98 L249.90,69.39 L250.38,69.79 L250.86,70.20 L251.34,70.60 L251.82,71.00 L252.31,71.40 L252.79,71.80 L253.27,72.19 L253.75,72.58 L254.23,72.97 L254.71,73.36 L255.19,73.74 L255.67,74.13 L256.15,74.51 L256.64,74.88 L257.12,75.26 L257.60,75.63 L258.08,76.00 L258.56,76.37 L259.04,76.73 L259.52,77.10 L260.00,77.46 L260.51,77.83 L261.02,78.21 L261.52,78.58 L262.03,78.94 L262.54,79.31 L263.04,79.67 L263.55,80.02 L264.05,80.38 L264.56,80.73 L265.07,81.08 L265.57,81.42 L266.08,81.76 L266.59,82.10 L267.09,82.43 L267.60,82.76 L268.11,83.09 L268.61,83.41 L269.14,83.75 L269.68,84.08 L270.21,84.41 L270.74,84.73 L271.27,85.05 L271.80,85.36 L272.33,85.67 L272.87,85.98 L273.40,86.28 L273.93,86.58 L274.46,86.87 L274.99,87.16 L275.52,87.44 L276.06,87.72 L276.61,88.01 L277.17,88.29 L277.73,88.57 L278.28,88.84 L278.84,89.11 L279.40,89.37 L279.96,89.63 L280.51,89.88 L281.07,90.13 L281.63,90.37 L282.18,90.60 L282.74,90.83 L283.30,91.06 L283.88,91.29 L284.46,91.52 L285.04,91.74 L285.63,91.95 L286.21,92.16 L286.79,92.36 L287.37,92.56 L287.96,92.75 L288.54,92.94 L289.12,93.12 L289.70,93.29 L290.29,93.46 L290.87,93.63 L291.45,93.79 L292.03,93.94 L292.62,94.09 L293.20,94.24 L293.81,94.39 L294.41,94.53 L295.02,94.66 L295.63,94.79 L296.24,94.92 L296.84,95.04 L297.45,95.16 L298.06,95.27 L298.67,95.38 L299.27,95.48 L299.88,95.58 L300.49,95.68 L301.10,95.77 L301.71,95.86 L302.31,95.94 L302.92,96.02 L303.53,96.10 L304.14,96.18 L304.74,96.25 L305.35,96.31 L305.96,96.38 L306.57,96.44 L307.17,96.50 L307.78,96.56 L308.39,96.61 L309.00,96.66" stroke="#5cc6dc" stroke-width="0.8" fill="none"/>
</g>
<rect x="224.5" y="44.2" width="48" height="5.6" fill="#fff"/>
<rect x="219.5" y="53.9" width="13.5" height="5.6" fill="#fff"/>
<rect x="216" y="63.6" width="13.5" height="5.6" fill="#fff"/>
<rect x="209.5" y="73.9" width="13.5" height="5.6" fill="#fff"/>
<rect x="198.5" y="84.9" width="16.5" height="5.6" fill="#fff"/>
<path d="M199,90.6 L209.5,79.5 M214.8,73.9 L218.5,69.2 M222,63.6 L224.6,59.5 M228,53.9 L230,49.8" stroke="#777" stroke-width="0.55" stroke-dasharray="0.9,0.7" fill="none"/>
<path d="M202.4,91.0 L195.6,92.9" stroke="#333" stroke-width="0.6" stroke-dasharray="1.2,0.6"/>
<path d="M192.5,93.7 L196.3,91.6 L196.9,94.1 Z" fill="#222"/>
<text x="226.10" y="49.00" font-size="5.7" text-anchor="start" fill="#000" >0% hole collection</text>
<text x="226.00" y="58.80" font-size="5.7" text-anchor="middle" fill="#000" >25%</text>
<text x="222.60" y="68.50" font-size="5.7" text-anchor="middle" fill="#000" >50%</text>
<text x="216.20" y="78.80" font-size="5.7" text-anchor="middle" fill="#000" >75%</text>
<text x="206.80" y="89.80" font-size="5.7" text-anchor="middle" fill="#000" >100%</text>
<line x1="262.00" y1="18.50" x2="270.70" y2="18.50" stroke="#5cc6dc" stroke-width="1.0" />
<line x1="262.00" y1="28.50" x2="270.70" y2="28.50" stroke="#111" stroke-width="1.1" />
<text x="272.8" y="19.8" font-size="5.7" fill="#000">Au/Al<tspan font-size="4.0" dy="1.5">2</tspan><tspan dy="-1.5">O</tspan><tspan font-size="4.0" dy="1.5">3</tspan></text>
<text x="272.8" y="29.9" font-size="5.7" fill="#000">Au/p-GaN</text>
<defs><linearGradient id="gc" x1="0" y1="168" x2="0" y2="218" gradientUnits="userSpaceOnUse"><stop offset="0" stop-color="#fff"/><stop offset="1" stop-color="#c2c2c2"/></linearGradient></defs>
<path d="M16.5,212.6 L92.8,168.2 L142.4,168.2 L142.4,200.5 L16.5,217.4 Z" fill="url(#gc)"/>
<path d="M16.50,234.70 L16.50,135.50 L142.40,135.50 L142.40,234.70 Z" fill="none" stroke="#c8c8c8" stroke-width="0.9" stroke-linejoin="miter"/>
<line x1="16.50" y1="234.70" x2="16.50" y2="233.10" stroke="#b0b0b0" stroke-width="0.6" />
<line x1="41.68" y1="234.70" x2="41.68" y2="233.10" stroke="#b0b0b0" stroke-width="0.6" />
<line x1="66.86" y1="234.70" x2="66.86" y2="233.10" stroke="#b0b0b0" stroke-width="0.6" />
<line x1="92.04" y1="234.70" x2="92.04" y2="233.10" stroke="#b0b0b0" stroke-width="0.6" />
<line x1="117.22" y1="234.70" x2="117.22" y2="233.10" stroke="#b0b0b0" stroke-width="0.6" />
<line x1="142.40" y1="234.70" x2="142.40" y2="233.10" stroke="#b0b0b0" stroke-width="0.6" />
<line x1="29.09" y1="234.70" x2="29.09" y2="233.10" stroke="#b0b0b0" stroke-width="0.6" />
<line x1="54.27" y1="234.70" x2="54.27" y2="233.10" stroke="#b0b0b0" stroke-width="0.6" />
<line x1="79.45" y1="234.70" x2="79.45" y2="233.10" stroke="#b0b0b0" stroke-width="0.6" />
<line x1="104.63" y1="234.70" x2="104.63" y2="233.10" stroke="#b0b0b0" stroke-width="0.6" />
<line x1="129.81" y1="234.70" x2="129.81" y2="233.10" stroke="#b0b0b0" stroke-width="0.6" />
<text x="16.50" y="242.30" font-size="5.7" text-anchor="middle" fill="#000" >0</text>
<text x="41.68" y="242.30" font-size="5.7" text-anchor="middle" fill="#000" >2</text>
<text x="66.86" y="242.30" font-size="5.7" text-anchor="middle" fill="#000" >4</text>
<text x="92.04" y="242.30" font-size="5.7" text-anchor="middle" fill="#000" >6</text>
<text x="117.22" y="242.30" font-size="5.7" text-anchor="middle" fill="#000" >8</text>
<text x="142.40" y="242.30" font-size="5.7" text-anchor="middle" fill="#000" >10</text>
<line x1="16.50" y1="234.70" x2="18.10" y2="234.70" stroke="#b0b0b0" stroke-width="0.6" />
<line x1="16.50" y1="214.86" x2="18.10" y2="214.86" stroke="#b0b0b0" stroke-width="0.6" />
<line x1="16.50" y1="195.02" x2="18.10" y2="195.02" stroke="#b0b0b0" stroke-width="0.6" />
<line x1="16.50" y1="175.18" x2="18.10" y2="175.18" stroke="#b0b0b0" stroke-width="0.6" />
<line x1="16.50" y1="155.34" x2="18.10" y2="155.34" stroke="#b0b0b0" stroke-width="0.6" />
<line x1="16.50" y1="135.50" x2="18.10" y2="135.50" stroke="#b0b0b0" stroke-width="0.6" />
<line x1="16.50" y1="224.78" x2="18.10" y2="224.78" stroke="#b0b0b0" stroke-width="0.6" />
<line x1="16.50" y1="204.94" x2="18.10" y2="204.94" stroke="#b0b0b0" stroke-width="0.6" />
<line x1="16.50" y1="185.10" x2="18.10" y2="185.10" stroke="#b0b0b0" stroke-width="0.6" />
<line x1="16.50" y1="165.26" x2="18.10" y2="165.26" stroke="#b0b0b0" stroke-width="0.6" />
<line x1="16.50" y1="145.42" x2="18.10" y2="145.42" stroke="#b0b0b0" stroke-width="0.6" />
<text x="13.60" y="236.90" font-size="5.7" text-anchor="end" fill="#000" >0</text>
<text x="13.60" y="217.06" font-size="5.7" text-anchor="end" fill="#000" >1</text>
<text x="13.60" y="197.22" font-size="5.7" text-anchor="end" fill="#000" >2</text>
<text x="13.60" y="177.38" font-size="5.7" text-anchor="end" fill="#000" >3</text>
<text x="13.60" y="157.54" font-size="5.7" text-anchor="end" fill="#000" >4</text>
<text x="13.60" y="137.70" font-size="5.7" text-anchor="end" fill="#000" >5</text>
<text transform="translate(5.1,184.6) rotate(-90)" font-size="6.0" text-anchor="middle" fill="#000"><tspan font-style="italic">τ</tspan><tspan font-size="4.2" dy="1.4">e-ph</tspan><tspan dy="-1.4"> (ps)</tspan></text>
<text x="79.5" y="250.6" font-size="5.7" text-anchor="middle" fill="#000"><tspan font-style="italic">U</tspan><tspan font-size="4.0" dy="1.5">abs</tspan><tspan dy="-1.5"> (×10</tspan><tspan font-size="4.0" dy="-2">9</tspan><tspan dy="2">) (Jm</tspan><tspan font-size="4.0" dy="-2">−3</tspan><tspan dy="2">)</tspan></text>
<line x1="16.50" y1="212.60" x2="92.80" y2="168.20" stroke="#aaa" stroke-width="0.5" />
<line x1="16.50" y1="215.30" x2="142.40" y2="194.20" stroke="#555" stroke-width="0.6" stroke-dasharray="2,1"/>
<line x1="16.50" y1="217.40" x2="142.40" y2="200.50" stroke="#777" stroke-width="0.5" stroke-dasharray="1.5,1"/>
<rect x="59.65" y="184.15" width="2.5" height="2.5" rx="0.25" fill="#fff" stroke="#222" stroke-width="0.7"/>
<rect x="59.60" y="190.60" width="2.6" height="2.4" rx="0.45" fill="#e0e0e0" stroke="#333" stroke-width="0.7"/>
<rect x="59.60" y="197.30" width="2.6" height="2.4" rx="0.25" fill="#8a8a8a" stroke="#222" stroke-width="0.7"/>
<circle cx="60.90" cy="204.60" r="1.7" fill="#6a6a6a"/>
<rect x="59.40" y="210.30" width="3.0" height="3.0" rx="0.4" fill="#000"/>
<rect x="82.25" y="172.25" width="2.5" height="2.5" rx="0.25" fill="#fff" stroke="#222" stroke-width="0.7"/>
<rect x="82.20" y="179.60" width="2.6" height="2.4" rx="0.45" fill="#e0e0e0" stroke="#333" stroke-width="0.7"/>
<rect x="82.20" y="187.60" width="2.6" height="2.4" rx="0.25" fill="#8a8a8a" stroke="#222" stroke-width="0.7"/>
<circle cx="83.50" cy="198.50" r="1.7" fill="#6a6a6a"/>
<rect x="82.00" y="206.70" width="3.0" height="3.0" rx="0.4" fill="#000"/>
<rect x="103.95" y="162.15" width="2.5" height="2.5" rx="0.25" fill="#fff" stroke="#222" stroke-width="0.7"/>
<rect x="103.90" y="170.60" width="2.6" height="2.4" rx="0.45" fill="#e0e0e0" stroke="#333" stroke-width="0.7"/>
<rect x="103.90" y="180.60" width="2.6" height="2.4" rx="0.25" fill="#8a8a8a" stroke="#222" stroke-width="0.7"/>
<circle cx="105.20" cy="192.50" r="1.7" fill="#6a6a6a"/>
<rect x="103.70" y="203.70" width="3.0" height="3.0" rx="0.4" fill="#000"/>
<circle cx="128.60" cy="155.00" r="1.35" fill="#fff" stroke="#444" stroke-width="0.7"/>
<rect x="127.30" y="163.20" width="2.6" height="2.4" rx="0.45" fill="#e0e0e0" stroke="#333" stroke-width="0.7"/>
<rect x="127.30" y="173.20" width="2.6" height="2.4" rx="0.25" fill="#8a8a8a" stroke="#222" stroke-width="0.7"/>
<circle cx="128.60" cy="186.10" r="1.7" fill="#6a6a6a"/>
<rect x="127.10" y="201.00" width="3.0" height="3.0" rx="0.4" fill="#000"/>
<rect x="25.55" y="143.05" width="2.5" height="2.5" rx="0.9" fill="#fff" stroke="#222" stroke-width="0.7"/>
<rect x="25.50" y="150.65" width="2.6" height="2.4" rx="1.1" fill="#e0e0e0" stroke="#333" stroke-width="0.7"/>
<rect x="25.50" y="158.20" width="2.6" height="2.4" rx="0.9" fill="#8a8a8a" stroke="#222" stroke-width="0.7"/>
<circle cx="26.80" cy="166.95" r="1.7" fill="#6a6a6a"/>
<rect x="25.30" y="173.00" width="3.0" height="3.0" rx="0.4" fill="#000"/>
<text x="31.00" y="146.70" font-size="5.7" text-anchor="start" fill="#000" >0% hole collection</text>
<text x="31.00" y="154.25" font-size="5.7" text-anchor="start" fill="#000" >25%</text>
<text x="31.00" y="161.80" font-size="5.7" text-anchor="start" fill="#000" >50%</text>
<text x="31.00" y="169.35" font-size="5.7" text-anchor="start" fill="#000" >75%</text>
<text x="31.00" y="176.90" font-size="5.7" text-anchor="start" fill="#000" >100%</text>
<line x1="117.40" y1="157.00" x2="117.40" y2="201.00" stroke="#8a8a8a" stroke-width="0.55" />
<path d="M117.4,203.0 L116.1,199.6 L118.7,199.6 Z" fill="#555"/>
<text x="117.40" y="155.30" font-size="5.7" text-anchor="middle" fill="#000" >0%</text>
<text x="117.40" y="212.30" font-size="5.7" text-anchor="middle" fill="#000" >100%</text>
<path d="M50.4,211.6 C50.4,218 53,223 58.2,223.2" stroke="#444" stroke-width="0.6" fill="none"/>
<text x="60.00" y="224.90" font-size="5.7" text-anchor="start" fill="#000" >Experimental</text>
<path d="M184.30,235.30 L184.30,135.20 L310.20,135.20 L310.20,235.30 Z" fill="none" stroke="#d4d4d4" stroke-width="0.9" stroke-linejoin="miter"/>
<line x1="184.30" y1="235.30" x2="184.30" y2="233.70" stroke="#b0b0b0" stroke-width="0.6" />
<line x1="226.27" y1="235.30" x2="226.27" y2="233.70" stroke="#b0b0b0" stroke-width="0.6" />
<line x1="268.23" y1="235.30" x2="268.23" y2="233.70" stroke="#b0b0b0" stroke-width="0.6" />
<line x1="310.20" y1="235.30" x2="310.20" y2="233.70" stroke="#b0b0b0" stroke-width="0.6" />
<line x1="205.28" y1="235.30" x2="205.28" y2="233.70" stroke="#b0b0b0" stroke-width="0.6" />
<line x1="247.25" y1="235.30" x2="247.25" y2="233.70" stroke="#b0b0b0" stroke-width="0.6" />
<line x1="289.22" y1="235.30" x2="289.22" y2="233.70" stroke="#b0b0b0" stroke-width="0.6" />
<text x="184.30" y="243.20" font-size="5.7" text-anchor="middle" fill="#000" >0</text>
<text x="226.27" y="243.20" font-size="5.7" text-anchor="middle" fill="#000" >1</text>
<text x="268.23" y="243.20" font-size="5.7" text-anchor="middle" fill="#000" >2</text>
<text x="310.20" y="243.20" font-size="5.7" text-anchor="middle" fill="#000" >3</text>
<line x1="184.30" y1="225.29" x2="185.90" y2="225.29" stroke="#b0b0b0" stroke-width="0.6" />
<line x1="184.30" y1="205.27" x2="185.90" y2="205.27" stroke="#b0b0b0" stroke-width="0.6" />
<line x1="184.30" y1="185.25" x2="185.90" y2="185.25" stroke="#b0b0b0" stroke-width="0.6" />
<line x1="184.30" y1="165.23" x2="185.90" y2="165.23" stroke="#b0b0b0" stroke-width="0.6" />
<line x1="184.30" y1="145.21" x2="185.90" y2="145.21" stroke="#b0b0b0" stroke-width="0.6" />
<line x1="184.30" y1="235.30" x2="185.90" y2="235.30" stroke="#b0b0b0" stroke-width="0.6" />
<line x1="184.30" y1="215.28" x2="185.90" y2="215.28" stroke="#b0b0b0" stroke-width="0.6" />
<line x1="184.30" y1="195.26" x2="185.90" y2="195.26" stroke="#b0b0b0" stroke-width="0.6" />
<line x1="184.30" y1="175.24" x2="185.90" y2="175.24" stroke="#b0b0b0" stroke-width="0.6" />
<line x1="184.30" y1="155.22" x2="185.90" y2="155.22" stroke="#b0b0b0" stroke-width="0.6" />
<text x="181.60" y="227.49" font-size="5.7" text-anchor="end" fill="#000" >0.6</text>
<text x="181.60" y="207.47" font-size="5.7" text-anchor="end" fill="#000" >0.8</text>
<text x="181.60" y="187.45" font-size="5.7" text-anchor="end" fill="#000" >1.0</text>
<text x="181.60" y="167.43" font-size="5.7" text-anchor="end" fill="#000" >1.2</text>
<text x="181.60" y="147.41" font-size="5.7" text-anchor="end" fill="#000" >1.4</text>
<text transform="translate(169.3,185.3) rotate(-90)" font-size="6.0" text-anchor="middle" fill="#000"><tspan font-style="italic">τ</tspan><tspan font-size="4.2" dy="1.4">e-ph</tspan><tspan dy="-1.4"> (ps)</tspan></text>
<text x="247" y="251" font-size="5.7" text-anchor="middle" fill="#000"><tspan font-style="italic">U</tspan><tspan font-size="4.0" dy="1.5">abs</tspan><tspan dy="-1.5"> (×10</tspan><tspan font-size="4.0" dy="-2">6</tspan><tspan dy="2">) (Jm</tspan><tspan font-size="4.0" dy="-2">−3</tspan><tspan dy="2">)</tspan></text>
<text x="230.8" y="145.1" font-size="5.7" fill="#000"><tspan font-style="italic">λ</tspan><tspan font-size="4.0" dy="1.5">pump</tspan><tspan dy="-1.5"> = 730 nm</tspan></text>
<line x1="185.50" y1="197.50" x2="225.20" y2="135.00" stroke="#bbb" stroke-width="0.5" />
<line x1="184.30" y1="195.60" x2="310.20" y2="143.00" stroke="#bbb" stroke-width="0.5" />
<line x1="228.00" y1="176.80" x2="236.90" y2="176.80" stroke="#333" stroke-width="0.6" />
<line x1="228.00" y1="175.70" x2="228.00" y2="177.90" stroke="#333" stroke-width="0.6" />
<line x1="236.90" y1="175.70" x2="236.90" y2="177.90" stroke="#333" stroke-width="0.6" />
<line x1="250.40" y1="166.20" x2="263.50" y2="166.20" stroke="#333" stroke-width="0.6" />
<line x1="250.40" y1="165.10" x2="250.40" y2="167.30" stroke="#333" stroke-width="0.6" />
<line x1="263.50" y1="165.10" x2="263.50" y2="167.30" stroke="#333" stroke-width="0.6" />
<line x1="272.30" y1="154.20" x2="289.60" y2="154.20" stroke="#333" stroke-width="0.6" />
<line x1="272.30" y1="153.10" x2="272.30" y2="155.30" stroke="#333" stroke-width="0.6" />
<line x1="289.60" y1="153.10" x2="289.60" y2="155.30" stroke="#333" stroke-width="0.6" />
<ellipse cx="208.5" cy="185.2" rx="2.0" ry="1.4" fill="#666" stroke="#333" stroke-width="0.5"/>
<ellipse cx="232.5" cy="176.8" rx="2.0" ry="1.4" fill="#666" stroke="#333" stroke-width="0.5"/>
<ellipse cx="256.8" cy="166.2" rx="2.0" ry="1.4" fill="#666" stroke="#333" stroke-width="0.5"/>
<ellipse cx="281.1" cy="154.2" rx="2.0" ry="1.4" fill="#666" stroke="#333" stroke-width="0.5"/>
<circle cx="186.0" cy="195.6" r="1.8" fill="#9adcec"/>
<circle cx="188.1" cy="189.6" r="1.8" fill="#9adcec"/>
<circle cx="191.6" cy="188.3" r="1.8" fill="#9adcec"/>
<circle cx="193.6" cy="183.6" r="1.8" fill="#9adcec"/>
<line x1="186.00" y1="193.60" x2="186.00" y2="197.60" stroke="#000" stroke-width="0.6" />
<line x1="185.40" y1="193.60" x2="186.60" y2="193.60" stroke="#000" stroke-width="0.45" />
<line x1="185.40" y1="197.60" x2="186.60" y2="197.60" stroke="#000" stroke-width="0.45" />
<rect x="185.10" y="194.70" width="1.8" height="1.8" fill="#222"/>
<line x1="188.10" y1="187.00" x2="188.10" y2="191.00" stroke="#000" stroke-width="0.6" />
<line x1="187.50" y1="187.00" x2="188.70" y2="187.00" stroke="#000" stroke-width="0.45" />
<line x1="187.50" y1="191.00" x2="188.70" y2="191.00" stroke="#000" stroke-width="0.45" />
<rect x="187.20" y="188.10" width="1.8" height="1.8" fill="#222"/>
<line x1="190.90" y1="185.10" x2="190.90" y2="189.10" stroke="#000" stroke-width="0.6" />
<line x1="190.30" y1="185.10" x2="191.50" y2="185.10" stroke="#000" stroke-width="0.45" />
<line x1="190.30" y1="189.10" x2="191.50" y2="189.10" stroke="#000" stroke-width="0.45" />
<rect x="190.00" y="186.20" width="1.8" height="1.8" fill="#222"/>
<line x1="192.90" y1="182.30" x2="192.90" y2="186.30" stroke="#000" stroke-width="0.6" />
<line x1="192.30" y1="182.30" x2="193.50" y2="182.30" stroke="#000" stroke-width="0.45" />
<line x1="192.30" y1="186.30" x2="193.50" y2="186.30" stroke="#000" stroke-width="0.45" />
<rect x="192.00" y="183.40" width="1.8" height="1.8" fill="#222"/>
<circle cx="196" cy="214.2" r="1.5" fill="none" stroke="#5cc6dc" stroke-width="0.6"/>
<rect x="194.6" y="222.2" width="2.8" height="2.8" fill="none" stroke="#222" stroke-width="0.6"/>
<text x="199.7" y="216.2" font-size="5.7" fill="#000">Au/Al<tspan font-size="4.0" dy="1.5">2</tspan><tspan dy="-1.5">O</tspan><tspan font-size="4.0" dy="1.5">3</tspan></text>
<text x="199.7" y="225.6" font-size="5.7" fill="#000">Au/p-GaN</text>
<rect x="257.7" y="187.2" width="41.20" height="32.20" fill="#fff" stroke="#bbb" stroke-width="0.7"/>
<line x1="257.70" y1="212.40" x2="259.20" y2="212.40" stroke="#b0b0b0" stroke-width="0.6" />
<line x1="257.70" y1="204.10" x2="259.20" y2="204.10" stroke="#b0b0b0" stroke-width="0.6" />
<line x1="257.70" y1="195.80" x2="259.20" y2="195.80" stroke="#b0b0b0" stroke-width="0.6" />
<text x="255.50" y="214.40" font-size="5.7" text-anchor="end" fill="#000" >0.9</text>
<text x="255.50" y="197.80" font-size="5.7" text-anchor="end" fill="#000" >1.0</text>
<line x1="263.59" y1="219.40" x2="263.59" y2="218.10" stroke="#b0b0b0" stroke-width="0.6" />
<line x1="269.47" y1="219.40" x2="269.47" y2="218.10" stroke="#b0b0b0" stroke-width="0.6" />
<line x1="275.36" y1="219.40" x2="275.36" y2="218.10" stroke="#b0b0b0" stroke-width="0.6" />
<line x1="281.24" y1="219.40" x2="281.24" y2="218.10" stroke="#b0b0b0" stroke-width="0.6" />
<line x1="287.13" y1="219.40" x2="287.13" y2="218.10" stroke="#b0b0b0" stroke-width="0.6" />
<line x1="293.01" y1="219.40" x2="293.01" y2="218.10" stroke="#b0b0b0" stroke-width="0.6" />
<text x="257.70" y="227.90" font-size="5.7" text-anchor="middle" fill="#000" >0</text>
<text x="299.80" y="227.90" font-size="5.7" text-anchor="middle" fill="#000" text-rendering="geometricPrecision">0.35</text>
<text x="280" y="233" font-size="5.7" text-anchor="middle" fill="#000"><tspan font-style="italic">U</tspan><tspan font-size="4.0" dy="1.5">abs</tspan></text>
<text transform="translate(243.0,201) rotate(-90)" font-size="6.0" text-anchor="middle" fill="#000"><tspan font-style="italic">τ</tspan><tspan font-size="4.2" dy="1.4">e-ph</tspan></text>
<line x1="258.20" y1="216.00" x2="298.50" y2="188.70" stroke="#bbb" stroke-width="0.5" />
<ellipse cx="265.6" cy="212.6" rx="2.0" ry="2.3" fill="#a4def0"/>
<line x1="265.60" y1="209.80" x2="265.60" y2="215.40" stroke="#222" stroke-width="0.5" />
<line x1="264.90" y1="209.80" x2="266.30" y2="209.80" stroke="#222" stroke-width="0.45" />
<line x1="264.90" y1="215.40" x2="266.30" y2="215.40" stroke="#222" stroke-width="0.45" />
<rect x="265.00" y="211.90" width="1.2" height="1.4" fill="#333"/>
<ellipse cx="274.2" cy="201.5" rx="2.0" ry="2.3" fill="#a4def0"/>
<line x1="274.20" y1="198.70" x2="274.20" y2="204.30" stroke="#222" stroke-width="0.5" />
<line x1="273.50" y1="198.70" x2="274.90" y2="198.70" stroke="#222" stroke-width="0.45" />
<line x1="273.50" y1="204.30" x2="274.90" y2="204.30" stroke="#222" stroke-width="0.45" />
<rect x="273.60" y="200.80" width="1.2" height="1.4" fill="#333"/>
<ellipse cx="282.3" cy="199.7" rx="2.0" ry="2.3" fill="#a4def0"/>
<line x1="282.30" y1="196.90" x2="282.30" y2="202.50" stroke="#222" stroke-width="0.5" />
<line x1="281.60" y1="196.90" x2="283.00" y2="196.90" stroke="#222" stroke-width="0.45" />
<line x1="281.60" y1="202.50" x2="283.00" y2="202.50" stroke="#222" stroke-width="0.45" />
<rect x="281.70" y="199.00" width="1.2" height="1.4" fill="#333"/>
<ellipse cx="290.4" cy="194.1" rx="2.0" ry="2.3" fill="#a4def0"/>
<line x1="290.40" y1="191.30" x2="290.40" y2="196.90" stroke="#222" stroke-width="0.5" />
<line x1="289.70" y1="191.30" x2="291.10" y2="191.30" stroke="#222" stroke-width="0.45" />
<line x1="289.70" y1="196.90" x2="291.10" y2="196.90" stroke="#222" stroke-width="0.45" />
<rect x="289.80" y="193.40" width="1.2" height="1.4" fill="#333"/>
</g>
</svg></div>
</body></html>
